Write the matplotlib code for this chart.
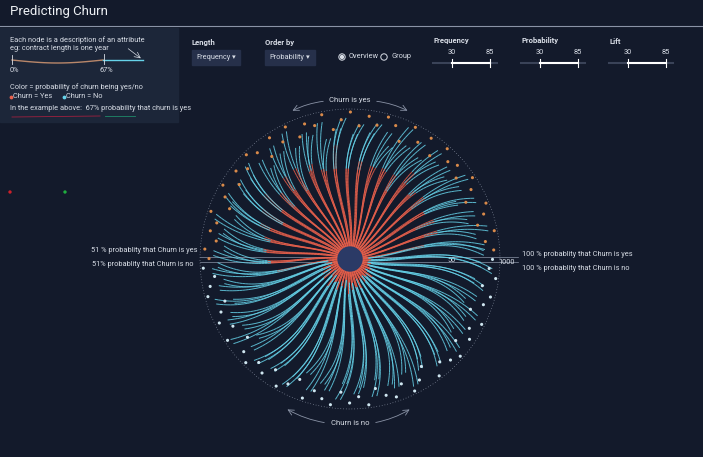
import numpy as np
import matplotlib.pyplot as plt
from matplotlib.patches import Rectangle, Circle
from matplotlib.collections import LineCollection

# node data: length (fraction of outer radius) and probability that churn is yes
node_length = [0.93, 0.88, 0.97, 0.85, 0.91, 0.95, 0.83, 0.90, 0.98, 0.86, 0.92, 0.89,
               0.96, 0.84, 0.94, 0.87, 0.99, 0.82, 0.91, 0.95, 0.88, 0.93, 0.86, 0.97,
               0.90, 0.84, 0.96, 0.89, 0.92, 0.85, 0.98, 0.87, 0.94, 0.83, 0.91, 0.96,
               0.88, 0.93, 0.86, 0.95, 0.90, 0.84, 0.97, 0.89, 0.92, 0.87, 0.94, 0.91,
               0.95, 0.88, 0.92, 0.97, 0.85, 0.90, 0.94, 0.87, 0.99, 0.83, 0.91, 0.96,
               0.89, 0.93, 0.86, 0.98, 0.90, 0.84, 0.95, 0.88, 0.92, 0.97, 0.86, 0.93,
               0.89, 0.96, 0.85, 0.91, 0.94, 0.87, 0.98, 0.90, 0.83, 0.95, 0.88, 0.92,
               0.97, 0.86, 0.93, 0.89, 0.96, 0.84, 0.91, 0.94, 0.87, 0.98, 0.90, 0.92]
node_prob = [0.52, 0.58, 0.62, 0.55, 0.66, 0.60, 0.70, 0.57, 0.64, 0.72, 0.61, 0.68,
             0.74, 0.59, 0.66, 0.71, 0.63, 0.76, 0.68, 0.62, 0.73, 0.65, 0.70, 0.78,
             0.66, 0.72, 0.64, 0.75, 0.69, 0.62, 0.71, 0.67, 0.74, 0.60, 0.68, 0.72,
             0.63, 0.70, 0.58, 0.66, 0.61, 0.69, 0.56, 0.64, 0.59, 0.62, 0.55, 0.52,
             0.30, 0.34, 0.26, 0.38, 0.31, 0.42, 0.28, 0.36, 0.40, 0.27, 0.33, 0.44,
             0.29, 0.37, 0.41, 0.32, 0.46, 0.35, 0.39, 0.43, 0.30, 0.45, 0.36, 0.42,
             0.33, 0.38, 0.44, 0.31, 0.40, 0.35, 0.28, 0.37, 0.32, 0.26, 0.34, 0.29,
             0.36, 0.30, 0.25, 0.33, 0.27, 0.31, 0.24, 0.29, 0.26, 0.22, 0.28, 0.25]

BG = "#131a2b"
PANEL = "#1c2639"
RED = "#e8604c"
CYAN = "#66d3ea"
TXT = "#d8dde6"
W, H = 703, 457

fig = plt.figure(figsize=(W / 100, H / 100), dpi=100, facecolor=BG)
ov = fig.add_axes([0, 0, 1, 1])
ov.set_xlim(0, W)
ov.set_ylim(H, 0)
ov.axis("off")

def txt(x, y, s, size=6, **kw):
    kw.setdefault("color", TXT)
    kw.setdefault("va", "center")
    kw.setdefault("family", "Roboto")
    ov.text(x, y, s, fontsize=size, **kw)

# header
txt(10, 12, "Predicting Churn", 9.5, color="#eef1f5")
ov.plot([0, W], [26, 26], color="#8a93a6", lw=0.8)

# legend panel
ov.add_patch(Rectangle((0, 28), 178, 94, color=PANEL, zorder=0))
txt(10, 40, "Each node is a description of an attribute", 5.3)
txt(10, 49, "eg: contract length is one year", 5.3)
xs = np.linspace(12, 143, 60)
ov.plot(xs[:42], 60 + 3 * np.sin(np.linspace(0, np.pi, 42)), color="#b9876a", lw=1)
ov.plot(xs[41:], np.full(19, 59.5), color=CYAN, lw=1)
ov.plot([12, 12], [55, 64], color=TXT, lw=0.6)
ov.plot([104, 104], [54, 64], color=TXT, lw=0.6)
ov.annotate("", xy=(143, 60), xytext=(126, 47),
            arrowprops=dict(arrowstyle="->", color=TXT, lw=0.5))
txt(10, 70, "0%", 5.3)
txt(100, 70, "67%", 5.3)
txt(10, 87, "Color = probability of churn being yes/no", 5.3)
ov.scatter([11], [97], s=3, color=RED)
txt(13, 97, "Churn = Yes", 5.3)
ov.scatter([64], [97], s=3, color=CYAN)
txt(66, 97, "Churn = No", 5.3)
txt(10, 108, "In the example above:  67% probability that churn is yes", 5.3)
ov.plot([12, 100], [117, 116], color="#a0203f", lw=0.6)
ov.plot([105, 135], [116, 116], color="#1f8a6a", lw=0.6)
ov.scatter([10, 65], [192, 192], s=2, color=["#d0202a", "#20b040"])

# controls
txt(192, 42, "Length", 5.5, weight="bold")
ov.add_patch(Rectangle((192, 50), 48, 15, color="#26304a"))
txt(196, 57.5, "Frequency", 5.3)
txt(232, 57.5, "\u25be", 5.3, family="DejaVu Sans")
txt(265, 42, "Order by", 5.5, weight="bold")
ov.add_patch(Rectangle((265, 50), 50, 15, color="#26304a"))
txt(269, 57.5, "Probability", 5.3)
txt(306, 57.5, "\u25be", 5.3, family="DejaVu Sans")
ov.add_patch(Circle((342, 57), 3.2, fill=False, ec=TXT, lw=0.7))
ov.add_patch(Circle((342, 57), 1.5, color=TXT))
txt(349, 57, "Overview", 5.3)
ov.add_patch(Circle((384, 57), 3.2, fill=False, ec=TXT, lw=0.7))
txt(391, 57, "Group", 5.3)
for x0, name in [(433, "Frequency"), (521, "Probability"), (609, "Lift")]:
    txt(x0, 41, name, 5.5, weight="bold")
    ov.plot([x0, x0 + 64], [63, 63], color="#3a4358", lw=1.5)
    ov.plot([x0 + 19, x0 + 57], [63, 63], color="white", lw=1.5)
    ov.plot([x0 + 19] * 2, [59, 67], color="white", lw=0.8)
    ov.plot([x0 + 57] * 2, [59, 67], color="white", lw=0.8)
    txt(x0 + 19, 53, "30", 5.3, ha="center")
    txt(x0 + 57, 53, "85", 5.3, ha="center")

# radial chart
CX, CY, R = 350, 259, 150
ax = fig.add_axes([(CX - 170) / W, 1 - (CY + 170) / H, 340 / W, 340 / H])
ax.set_xlim(-170 / R, 170 / R)
ax.set_ylim(-170 / R, 170 / R)
ax.axis("off")

n = len(node_length)
segs, cols, dots, dcols = [], [], [], []
for i, (L, p) in enumerate(zip(node_length, node_prob)):
    a0 = np.pi * 2 * i / n + np.pi / n
    for strand in (-0.018, 0.018):
        r = np.linspace(0.08, L * 0.97, 40)
        th = a0 + strand * r / L + 0.2 * np.sin(np.pi * r / L * 0.9) * (1 if i % 2 else 0.7)
        pts = np.column_stack([r * np.cos(th), r * np.sin(th)])
        for k in range(len(r) - 1):
            segs.append(pts[k:k + 2])
            frac = r[k] / L
            lim = p if p > 0.5 else p * 0.5
            cols.append(RED if frac < lim else CYAN)
    rd = min(L + 0.03, 0.98)
    dots.append((rd * np.cos(a0 + 0.03), rd * np.sin(a0 + 0.03)))
    dcols.append("#d98a4a" if p > 0.5 else "#cfe6f0")
ax.add_collection(LineCollection(segs, colors=cols, lw=0.7, alpha=0.85))
d = np.array(dots)
ax.scatter(d[:, 0], d[:, 1], s=1.5, c=dcols, zorder=3)
t = np.linspace(0, 2 * np.pi, 300)
ax.plot(np.cos(t), np.sin(t), color="#9aa3b5", lw=0.5, ls=(0, (1, 3)))
ax.add_patch(Circle((0, 0), 0.08, color="#2b3a66", zorder=4))

# axis lines and labels
ov.plot([200, 518], [257, 257], color="#8a93a6", lw=0.5)
ov.plot([200, 518], [262, 262], color="#8a93a6", lw=0.5)
txt(447, 260, "50", 5.3)
txt(498, 262, "1000", 5.3)
txt(197, 251, "51 % probablity that Churn is yes", 5.3, ha="right")
txt(193, 265, "51% probablity that Churn is no", 5.3, ha="right")
txt(522, 255, "100 % probablity that Churn is yes", 5.3)
txt(522, 269, "100 % probablity that Churn is no", 5.3)
txt(350, 100, "Churn is yes", 5.5, ha="center",
    bbox=dict(fc=BG, ec="none", pad=1))
txt(350, 423, "Churn is no", 5.5, ha="center",
    bbox=dict(fc=BG, ec="none", pad=1))
for xy, xt, rad in [((290, 112), (326, 101), 0.1), ((410, 112), (374, 101), -0.1),
                    ((285, 408), (327, 423), -0.1), ((412, 408), (373, 423), 0.1)]:
    ov.annotate("", xy=xy, xytext=xt,
                arrowprops=dict(arrowstyle="->", color="#8a93a6", lw=0.6,
                                connectionstyle=f"arc3,rad={rad}"))

fig.savefig("out.png", dpi=100, facecolor=BG)
